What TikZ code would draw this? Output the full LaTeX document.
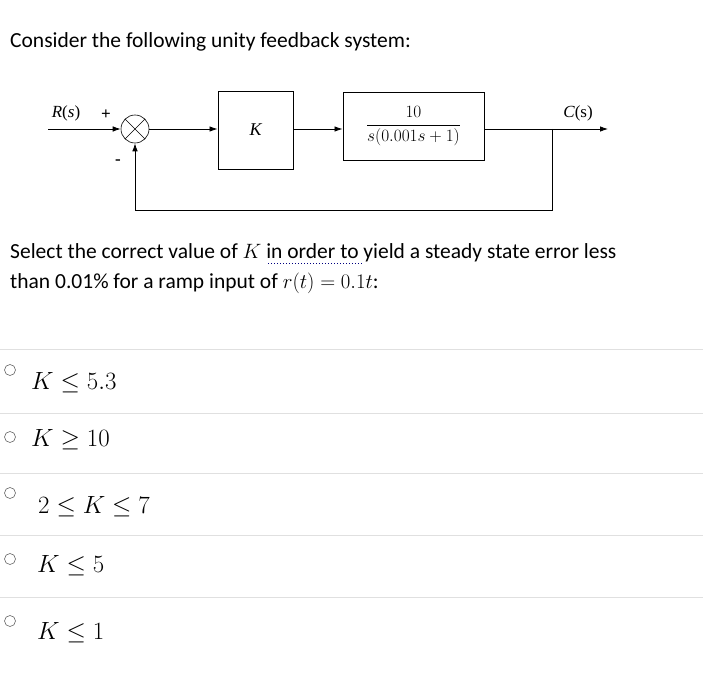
\documentclass[tikz,border=0pt]{standalone}
\usepackage{amsmath}
\usepackage{fontspec}
\setmainfont{Carlito}
\newfontfamily\tnr{Liberation Serif}
\usetikzlibrary{arrows.meta}
\begin{document}
\begin{tikzpicture}[x=1pt,y=-1pt,
  txt/.style={anchor=west,inner sep=0,font=\fontsize{21.5}{25}\selectfont},
  opt/.style={anchor=west,inner sep=0,font=\fontsize{23.5}{27}\selectfont},
  blk/.style={draw,line width=0.9pt,minimum width=75pt,minimum height=78pt,inner sep=0},
  sig/.style={line width=0.8pt,-{Latex[length=8pt,width=5.5pt]}},
  sep/.style={draw=black!12,line width=0.6pt},
  radio/.style={circle,draw=black!60,line width=0.6pt,minimum size=11pt,inner sep=0}]
\useasboundingbox (0,0) rectangle (703,679);
\node[txt] (t1) at (10,42) {Consider the following unity feedback system:};
% block diagram
\node[circle,draw,line width=0.6pt,minimum size=28pt,inner sep=0] (sum) at (135,129) {};
\draw[line width=0.6pt] (sum.north west)--(sum.south east) (sum.north east)--(sum.south west);
\node[blk,font=\tnr\itshape\fontsize{18}{20}\selectfont] (k) at (255.5,130) {K};
\node[blk,minimum width=141pt,minimum height=68pt,font=\fontsize{19}{22}\selectfont] (g) at (413.5,126)
  {$\dfrac{10}{s(0.001s+1)}$};
\coordinate (in) at (48,129);
\coordinate (out) at (608,129);
\coordinate (br) at (552,129);
\coordinate (bl) at (552,210);
\coordinate (bb) at (135,210);
\draw[sig] (in)--(sum.west);
\draw[sig] (sum.east)--(k.west |- sum);
\draw[sig] (k.east |- sum)--(g.west |- sum);
\draw[sig] (g.east |- sum)--(out);
\draw[sig] (br)--(bl)--(bb)--(sum.south);
\node[inner sep=0,font=\tnr\fontsize{17}{20}\selectfont] (rl) at (66,113) {\textit{R}(\textit{s})};
\node[inner sep=0,font=\tnr\bfseries\fontsize{17}{20}\selectfont] (pl) at (106,115) {+};
\node[inner sep=0,font=\tnr\bfseries\fontsize{17}{20}\selectfont] (ml) at (118,162) {-};
\node[inner sep=0,font=\tnr\fontsize{17}{20}\selectfont] (cl) at (578,113) {\textit{C}(s)};
% question
\node[txt] (q1) at (10,253) {Select the correct value of $K$ in order to yield a steady state error less};
\node[txt] (q2) at (10,283) {than 0.01\% for a ramp input of $r(t)=0.1t$:};
\draw[line width=1pt,dotted,draw=blue!50!black] (268,263)--(362,263);
% options
\foreach \y in {349,413,473,535,597} \draw[sep] (0,\y)--(703,\y);
\node[radio] (r1) at (10,370) {};
\node[radio] (r2) at (10,437) {};
\node[radio] (r3) at (10,493) {};
\node[radio] (r4) at (10,559) {};
\node[radio] (r5) at (10,621) {};
\node[opt] (o1) at (31,383) {$K\le 5.3$};
\node[opt] (o2) at (31,440) {$K\ge 10$};
\node[opt] (o3) at (38,507) {$2\le K\le 7$};
\node[opt] (o4) at (37,566) {$K\le 5$};
\node[opt] (o5) at (37,633) {$K\le 1$};
\end{tikzpicture}
\end{document}
